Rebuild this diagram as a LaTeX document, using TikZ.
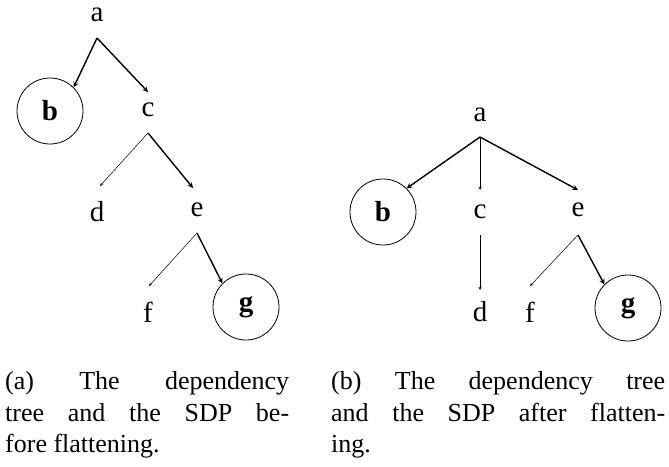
\documentclass[tikz,border=0pt]{standalone}
\usepackage{fontspec}
\setmainfont{Liberation Serif}
\begin{document}
\begin{tikzpicture}[x=1pt,y=-1pt,
  lab/.style={font=\fontsize{29}{32}\selectfont, inner sep=0pt},
  circ/.style={lab, circle, draw, line width=0.8pt, minimum size=66pt, font=\fontsize{29}{32}\selectfont\bfseries},
  thinarr/.style={-stealth, line width=0.5pt},
  thickarr/.style={-stealth, line width=1.4pt},
  captxt/.style={anchor=base west, inner sep=0pt, font=\fontsize{26}{30}\selectfont}]
\useasboundingbox (0,0) rectangle (669,466);
% left tree
\node[lab] (a1) at (97,15) {a};
\node[circ] (b1) at (50,111) {b};
\node[lab] (c1) at (148,110) {c};
\node[lab] (d1) at (97,212) {d};
\node[lab] (e1) at (197,210) {e};
\node[lab] (f1) at (148,312) {f};
\node[circ] (g1) at (246,307) {g};
\coordinate (a1s) at (97,38);
\coordinate (c1s) at (148,133);
\coordinate (e1s) at (197,233);
\draw[thickarr] (a1s) -- (b1.north east);
\draw[thickarr] (a1s) -- (148,92);
\draw[thinarr] (c1s) -- (100,186);
\draw[thickarr] (c1s) -- (193,188);
\draw[thinarr] (e1s) -- (149,286);
\draw[thickarr] (e1s) -- (g1.north west);
% right tree
\node[lab] (a2) at (480,115) {a};
\node[circ] (b2) at (383,212) {b};
\node[lab] (c2) at (480,212) {c};
\node[lab] (e2) at (578,210) {e};
\node[lab] (d2) at (480,312) {d};
\node[lab] (f2) at (530,312) {f};
\node[circ] (g2) at (628,308) {g};
\coordinate (a2s) at (480,137);
\coordinate (c2s) at (480,235);
\coordinate (e2s) at (578,235);
\draw[thickarr] (a2s) -- (b2.north east);
\draw[thinarr] (a2s) -- (480,190);
\draw[thickarr] (a2s) -- (578,190);
\draw[thinarr] (c2s) -- (480,290);
\draw[thinarr] (e2s) -- (530,286);
\draw[thickarr] (e2s) -- (g2.north west);
% captions
\node[captxt] (l1) at (5,389) {\makebox[284pt][s]{(a) The dependency}};
\node[captxt] (l2) at (5,421) {\makebox[284pt][s]{tree and the SDP be-}};
\node[captxt] (l3) at (5,452) {fore flattening.};
\node[captxt] (r1) at (331,389) {\makebox[334pt][s]{(b) The dependency tree}};
\node[captxt] (r2) at (331,421) {\makebox[334pt][s]{and the SDP after flatten-}};
\node[captxt] (r3) at (331,452) {ing.};
\end{tikzpicture}
\end{document}
